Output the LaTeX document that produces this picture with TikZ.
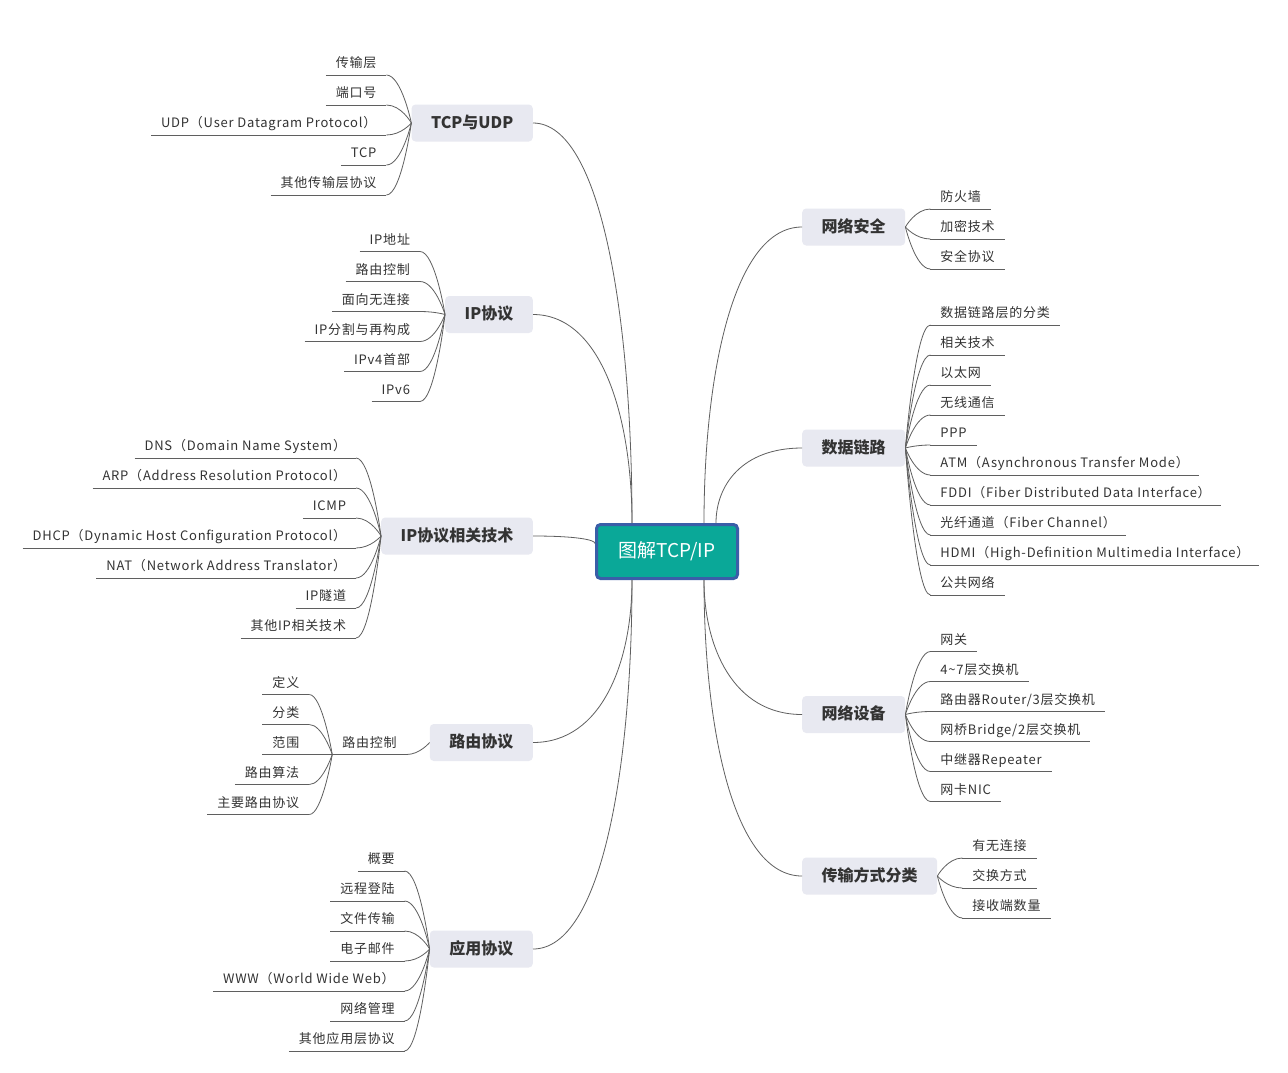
\documentclass[tikz,border=0pt]{standalone}
\usepackage{fontspec}
\setmainfont{Noto Sans CJK SC}
\newfontfamily\leaffont{Noto Sans CJK SC}[LetterSpace=6]
\usepackage{tikz}
\usetikzlibrary{positioning,calc}
\definecolor{root-fill}{RGB}{10,168,152}
\definecolor{root-rim}{RGB}{58,94,168}
\definecolor{topic-fill}{RGB}{232,233,241}
\definecolor{link-gray}{RGB}{95,95,95}
\definecolor{ink}{RGB}{51,51,51}
\tikzset{
    root-box/.style={
        rectangle,
        rounded corners=4pt,
        fill=root-fill,
        draw=root-rim,
        line width=3pt,
        minimum width=141pt,
        minimum height=54pt,
        text=white,
        font=\fontsize{19}{22}\selectfont
    },
    topic-box/.style={
        rectangle,
        rounded corners=4pt,
        fill=topic-fill,
        inner xsep=19.5pt,
        inner ysep=0pt,
        text height=13pt,
        text depth=3pt,
        minimum height=37pt,
        text=ink,
        font=\fontsize{16}{19}\selectfont\bfseries
    },
    u-line/.style={
        append after command={(\tikzlastnode.south west) edge (\tikzlastnode.south east)}
    },
    leaf/.style={
        inner xsep=10pt,
        inner ysep=0pt,
        outer sep=0pt,
        text height=11pt,
        text depth=2pt,
        minimum height=24pt,
        text=ink,
        font=\leaffont\fontsize{13}{15}\selectfont,
        u-line
    },
    leaf-l/.style={leaf, anchor=north east},
    leaf-r/.style={leaf, anchor=north west},
    every edge/.style={
        draw=link-gray,
        line width=0.8pt
    },
    twig-l/.style={
        to path={.. controls (\tikztostart) and ([xshift=-10pt]\tikztostart |- \tikztotarget) .. (\tikztotarget)}
    },
    twig-r/.style={
        to path={.. controls (\tikztostart) and ([xshift=10pt]\tikztostart |- \tikztotarget) .. (\tikztotarget)}
    },
    trunk/.style={
        to path={.. controls ($(\tikztostart)!0.5!(\tikztostart |- \tikztotarget)$) and ($(\tikztostart |- \tikztotarget)!0.3!(\tikztotarget)$) .. (\tikztotarget)}
    },
    node distance=6pt
}

\begin{document}
\begin{tikzpicture}[x=1pt, y=-1pt]
    \path[use as bounding box, fill=white] (0,0) rectangle (1288,1072);

    \node[root-box] (root) at (667,551.5) {图解TCP/IP};
    \coordinate (rt-nw) at ([xshift=37pt]root.north west);
    \coordinate (rt-sw) at ([xshift=37pt]root.south west);
    \coordinate (rt-w) at ([yshift=8pt]root.west);
    \coordinate (rt-ne) at ([xshift=-35pt]root.north east);
    \coordinate (rt-n) at ([xshift=-23pt]root.north east);
    \coordinate (rt-se) at ([xshift=-35pt]root.south east);

    % left topics
    \node[topic-box, anchor=east] (tcp) at (533,123) {TCP与UDP};
    \node[topic-box, anchor=east] (ipp) at (533,314.5) {IP协议};
    \node[topic-box, anchor=east] (ipt) at (533,536) {IP协议相关技术};
    \node[topic-box, anchor=east] (rtp) at (533,742.5) {路由协议};
    \node[topic-box, anchor=east] (app) at (533,949) {应用协议};
    % right topics
    \node[topic-box, anchor=west] (sec) at (802,227) {网络安全};
    \node[topic-box, anchor=west] (dl) at (802,448) {数据链路};
    \node[topic-box, anchor=west] (dev) at (802,714.5) {网络设备};
    \node[topic-box, anchor=west] (tx) at (802,876) {传输方式分类};

    \draw (rt-nw) edge[trunk] (tcp.east) edge[trunk] (ipp.east);
    \draw (rt-w) edge[trunk] (ipt.east);
    \draw (rt-sw) edge[trunk] (rtp.east) edge[trunk] (app.east);
    \draw (rt-ne) edge[trunk] (sec.west);
    \draw (rt-n) edge[trunk] (dl.west);
    \draw (rt-se) edge[trunk] (dev.west) edge[trunk] (tx.west);

    % TCP与UDP
    \node[leaf-l] (t1) at ([xshift=-25pt, yshift=72pt]tcp.west) {传输层};
    \node[below=of t1.south east, leaf-l] (t2) {端口号};
    \node[below=of t2.south east, leaf-l] (t3) {UDP（User Datagram Protocol）};
    \node[below=of t3.south east, leaf-l] (t4) {TCP};
    \node[below=of t4.south east, leaf-l] (t5) {其他传输层协议};
    \draw (tcp.west) edge[twig-l] (t1.south east) edge[twig-l] (t2.south east)
        edge[twig-l] (t3.south east) edge[twig-l] (t4.south east)
        edge[twig-l] (t5.south east);

    % IP协议
    \node[leaf-l] (p1) at ([xshift=-25pt, yshift=87pt]ipp.west) {IP地址};
    \node[below=of p1.south east, leaf-l] (p2) {路由控制};
    \node[below=of p2.south east, leaf-l] (p3) {面向无连接};
    \node[below=of p3.south east, leaf-l] (p4) {IP分割与再构成};
    \node[below=of p4.south east, leaf-l] (p5) {IPv4首部};
    \node[below=of p5.south east, leaf-l] (p6) {IPv6};
    \draw (ipp.west) edge[twig-l] (p1.south east) edge[twig-l] (p2.south east)
        edge[twig-l] (p3.south east) edge[twig-l] (p4.south east)
        edge[twig-l] (p5.south east) edge[twig-l] (p6.south east);

    % IP协议相关技术
    \node[leaf-l] (q1) at ([xshift=-25pt, yshift=102pt]ipt.west) {DNS（Domain Name System）};
    \node[below=of q1.south east, leaf-l] (q2) {ARP（Address Resolution Protocol）};
    \node[below=of q2.south east, leaf-l] (q3) {ICMP};
    \node[below=of q3.south east, leaf-l] (q4) {DHCP（Dynamic Host Configuration Protocol）};
    \node[below=of q4.south east, leaf-l] (q5) {NAT（Network Address Translator）};
    \node[below=of q5.south east, leaf-l] (q6) {IP隧道};
    \node[below=of q6.south east, leaf-l] (q7) {其他IP相关技术};
    \draw (ipt.west) edge[twig-l] (q1.south east) edge[twig-l] (q2.south east)
        edge[twig-l] (q3.south east) edge[twig-l] (q4.south east)
        edge[twig-l] (q5.south east) edge[twig-l] (q6.south east)
        edge[twig-l] (q7.south east);

    % 路由协议
    \node[leaf-l, anchor=east] (rc) at ([xshift=-23pt]rtp.west) {路由控制};
    \draw (rtp.west) edge[twig-l] (rc.south east);
    \node[leaf-l] (r1) at ([xshift=-23pt, yshift=72pt]rc.west) {定义};
    \node[below=of r1.south east, leaf-l] (r2) {分类};
    \node[below=of r2.south east, leaf-l] (r3) {范围};
    \node[below=of r3.south east, leaf-l] (r4) {路由算法};
    \node[below=of r4.south east, leaf-l] (r5) {主要路由协议};
    \draw (rc.south west) edge[twig-l] (r1.south east) edge[twig-l] (r2.south east)
        edge[twig-l] (r3.south east) edge[twig-l] (r4.south east)
        edge[twig-l] (r5.south east);

    % 应用协议
    \node[leaf-l] (a1) at ([xshift=-25pt, yshift=102pt]app.west) {概要};
    \node[below=of a1.south east, leaf-l] (a2) {远程登陆};
    \node[below=of a2.south east, leaf-l] (a3) {文件传输};
    \node[below=of a3.south east, leaf-l] (a4) {电子邮件};
    \node[below=of a4.south east, leaf-l] (a5) {WWW（World Wide Web）};
    \node[below=of a5.south east, leaf-l] (a6) {网络管理};
    \node[below=of a6.south east, leaf-l] (a7) {其他应用层协议};
    \draw (app.west) edge[twig-l] (a1.south east) edge[twig-l] (a2.south east)
        edge[twig-l] (a3.south east) edge[twig-l] (a4.south east)
        edge[twig-l] (a5.south east) edge[twig-l] (a6.south east)
        edge[twig-l] (a7.south east);

    % 网络安全
    \node[leaf-r] (s1) at ([xshift=25pt, yshift=42pt]sec.east) {防火墙};
    \node[below=of s1.south west, leaf-r] (s2) {加密技术};
    \node[below=of s2.south west, leaf-r] (s3) {安全协议};
    \draw (sec.east) edge[twig-r] (s1.south west) edge[twig-r] (s2.south west)
        edge[twig-r] (s3.south west);

    % 数据链路
    \node[leaf-r] (d1) at ([xshift=25pt, yshift=147pt]dl.east) {数据链路层的分类};
    \node[below=of d1.south west, leaf-r] (d2) {相关技术};
    \node[below=of d2.south west, leaf-r] (d3) {以太网};
    \node[below=of d3.south west, leaf-r] (d4) {无线通信};
    \node[below=of d4.south west, leaf-r] (d5) {PPP};
    \node[below=of d5.south west, leaf-r] (d6) {ATM（Asynchronous Transfer Mode）};
    \node[below=of d6.south west, leaf-r] (d7) {FDDI（Fiber Distributed Data Interface）};
    \node[below=of d7.south west, leaf-r] (d8) {光纤通道（Fiber Channel）};
    \node[below=of d8.south west, leaf-r] (d9) {HDMI（High-Definition Multimedia Interface）};
    \node[below=of d9.south west, leaf-r] (d10) {公共网络};
    \draw (dl.east) edge[twig-r] (d1.south west) edge[twig-r] (d2.south west)
        edge[twig-r] (d3.south west) edge[twig-r] (d4.south west)
        edge[twig-r] (d5.south west) edge[twig-r] (d6.south west)
        edge[twig-r] (d7.south west) edge[twig-r] (d8.south west)
        edge[twig-r] (d9.south west) edge[twig-r] (d10.south west);

    % 网络设备
    \node[leaf-r] (e1) at ([xshift=25pt, yshift=87pt]dev.east) {网关};
    \node[below=of e1.south west, leaf-r] (e2) {4\textasciitilde 7层交换机};
    \node[below=of e2.south west, leaf-r] (e3) {路由器Router/3层交换机};
    \node[below=of e3.south west, leaf-r] (e4) {网桥Bridge/2层交换机};
    \node[below=of e4.south west, leaf-r] (e5) {中继器Repeater};
    \node[below=of e5.south west, leaf-r] (e6) {网卡NIC};
    \draw (dev.east) edge[twig-r] (e1.south west) edge[twig-r] (e2.south west)
        edge[twig-r] (e3.south west) edge[twig-r] (e4.south west)
        edge[twig-r] (e5.south west) edge[twig-r] (e6.south west);

    % 传输方式分类
    \node[leaf-r] (x1) at ([xshift=25pt, yshift=42pt]tx.east) {有无连接};
    \node[below=of x1.south west, leaf-r] (x2) {交换方式};
    \node[below=of x2.south west, leaf-r] (x3) {接收端数量};
    \draw (tx.east) edge[twig-r] (x1.south west) edge[twig-r] (x2.south west)
        edge[twig-r] (x3.south west);
\end{tikzpicture}
\end{document}
